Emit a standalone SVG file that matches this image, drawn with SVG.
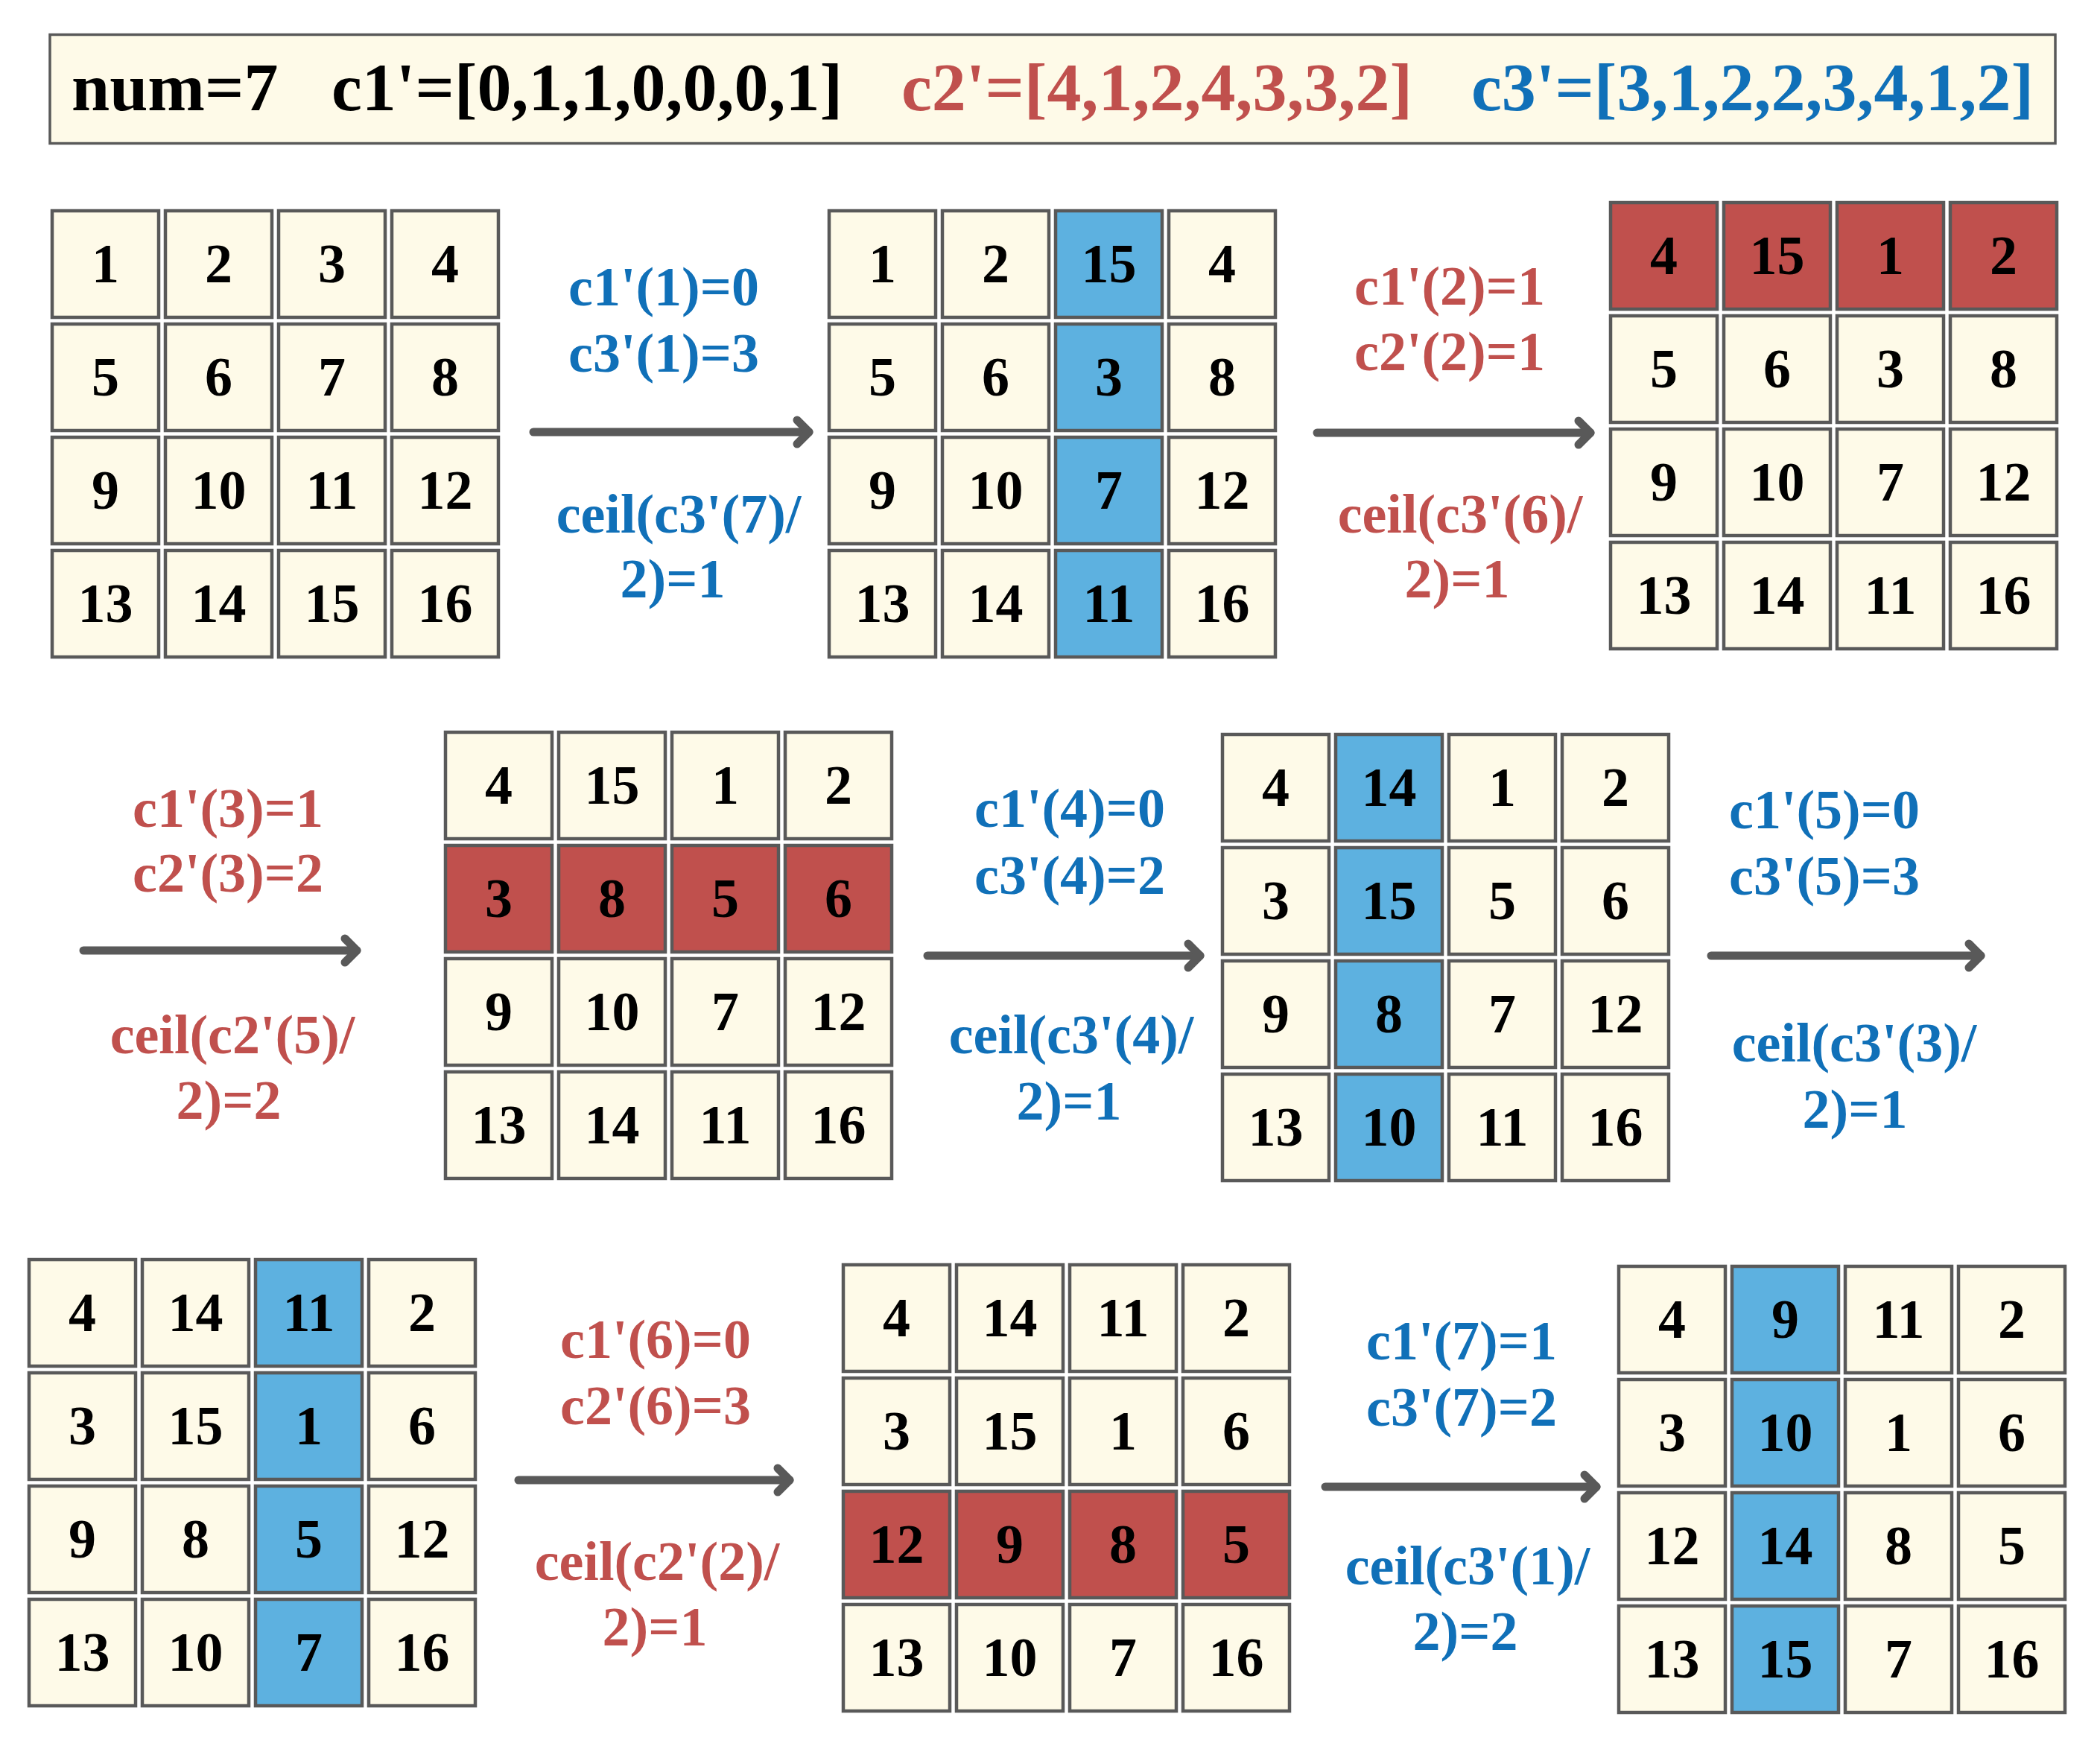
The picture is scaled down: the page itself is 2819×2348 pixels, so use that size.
<svg xmlns="http://www.w3.org/2000/svg" width="2819" height="2348" viewBox="0 0 2819 2348">
<style>
.hdr{fill:#FEFAE8;stroke:#595959;stroke-width:3.5}
rect.c,rect.b,rect.r{stroke:#595959;stroke-width:4.5}
rect.c{fill:#FEFAE8}
rect.b{fill:#5DB1E0}
rect.r{fill:#C0504D}
text{font-family:"Liberation Serif","Times New Roman",serif;font-weight:bold}
.n{font-size:74px;fill:#000;text-anchor:middle}
.h{font-size:92px}
.lb{font-size:74px;text-anchor:middle}
.blue{fill:#1070B8}
.red{fill:#C0504D}
.k{fill:#000}
.arr{stroke:#595959;stroke-width:11;stroke-linecap:round;stroke-linejoin:round;fill:none}
</style>
<defs>
<marker id="ah" markerUnits="userSpaceOnUse" viewBox="-28 -26 40 52" markerWidth="40" markerHeight="52" refX="0" refY="0" orient="auto">
<path d="M -16 -16 L 0 0 L -16 16" class="arr"/>
</marker>
</defs>
<rect width="2819" height="2348" fill="#fff"/>

<g id="header">
<rect class="hdr" x="67" y="46.5" width="2692" height="146"/>
<text class="h k" x="96" y="148">num=7</text>
<text class="h k" x="445" y="148">c1'=[0,1,1,0,0,0,1]</text>
<text class="h red" x="1210" y="148">c2'=[4,1,2,4,3,3,2]</text>
<text class="h blue" x="1975" y="148">c3'=[3,1,2,2,3,4,1,2]</text>
</g>

<g id="grid1" transform="translate(68,281)">
<rect class="c" x="2" y="2" width="143" height="143"/><rect class="c" x="154" y="2" width="143" height="143"/><rect class="c" x="306" y="2" width="143" height="143"/><rect class="c" x="458" y="2" width="143" height="143"/>
<rect class="c" x="2" y="154" width="143" height="143"/><rect class="c" x="154" y="154" width="143" height="143"/><rect class="c" x="306" y="154" width="143" height="143"/><rect class="c" x="458" y="154" width="143" height="143"/>
<rect class="c" x="2" y="306" width="143" height="143"/><rect class="c" x="154" y="306" width="143" height="143"/><rect class="c" x="306" y="306" width="143" height="143"/><rect class="c" x="458" y="306" width="143" height="143"/>
<rect class="c" x="2" y="458" width="143" height="143"/><rect class="c" x="154" y="458" width="143" height="143"/><rect class="c" x="306" y="458" width="143" height="143"/><rect class="c" x="458" y="458" width="143" height="143"/>
<text class="n" x="73.5" y="97.5">1</text><text class="n" x="225.5" y="97.5">2</text><text class="n" x="377.5" y="97.5">3</text><text class="n" x="529.5" y="97.5">4</text>
<text class="n" x="73.5" y="249.5">5</text><text class="n" x="225.5" y="249.5">6</text><text class="n" x="377.5" y="249.5">7</text><text class="n" x="529.5" y="249.5">8</text>
<text class="n" x="73.5" y="401.5">9</text><text class="n" x="225.5" y="401.5">10</text><text class="n" x="377.5" y="401.5">11</text><text class="n" x="529.5" y="401.5">12</text>
<text class="n" x="73.5" y="553.5">13</text><text class="n" x="225.5" y="553.5">14</text><text class="n" x="377.5" y="553.5">15</text><text class="n" x="529.5" y="553.5">16</text>
</g>

<g id="grid2" transform="translate(1111,281)">
<rect class="c" x="2" y="2" width="143" height="143"/><rect class="c" x="154" y="2" width="143" height="143"/><rect class="b" x="306" y="2" width="143" height="143"/><rect class="c" x="458" y="2" width="143" height="143"/>
<rect class="c" x="2" y="154" width="143" height="143"/><rect class="c" x="154" y="154" width="143" height="143"/><rect class="b" x="306" y="154" width="143" height="143"/><rect class="c" x="458" y="154" width="143" height="143"/>
<rect class="c" x="2" y="306" width="143" height="143"/><rect class="c" x="154" y="306" width="143" height="143"/><rect class="b" x="306" y="306" width="143" height="143"/><rect class="c" x="458" y="306" width="143" height="143"/>
<rect class="c" x="2" y="458" width="143" height="143"/><rect class="c" x="154" y="458" width="143" height="143"/><rect class="b" x="306" y="458" width="143" height="143"/><rect class="c" x="458" y="458" width="143" height="143"/>
<text class="n" x="73.5" y="97.5">1</text><text class="n" x="225.5" y="97.5">2</text><text class="n" x="377.5" y="97.5">15</text><text class="n" x="529.5" y="97.5">4</text>
<text class="n" x="73.5" y="249.5">5</text><text class="n" x="225.5" y="249.5">6</text><text class="n" x="377.5" y="249.5">3</text><text class="n" x="529.5" y="249.5">8</text>
<text class="n" x="73.5" y="401.5">9</text><text class="n" x="225.5" y="401.5">10</text><text class="n" x="377.5" y="401.5">7</text><text class="n" x="529.5" y="401.5">12</text>
<text class="n" x="73.5" y="553.5">13</text><text class="n" x="225.5" y="553.5">14</text><text class="n" x="377.5" y="553.5">11</text><text class="n" x="529.5" y="553.5">16</text>
</g>

<g id="grid3" transform="translate(2160,270)">
<rect class="r" x="2" y="2" width="143" height="143"/><rect class="r" x="154" y="2" width="143" height="143"/><rect class="r" x="306" y="2" width="143" height="143"/><rect class="r" x="458" y="2" width="143" height="143"/>
<rect class="c" x="2" y="154" width="143" height="143"/><rect class="c" x="154" y="154" width="143" height="143"/><rect class="c" x="306" y="154" width="143" height="143"/><rect class="c" x="458" y="154" width="143" height="143"/>
<rect class="c" x="2" y="306" width="143" height="143"/><rect class="c" x="154" y="306" width="143" height="143"/><rect class="c" x="306" y="306" width="143" height="143"/><rect class="c" x="458" y="306" width="143" height="143"/>
<rect class="c" x="2" y="458" width="143" height="143"/><rect class="c" x="154" y="458" width="143" height="143"/><rect class="c" x="306" y="458" width="143" height="143"/><rect class="c" x="458" y="458" width="143" height="143"/>
<text class="n" x="73.5" y="97.5">4</text><text class="n" x="225.5" y="97.5">15</text><text class="n" x="377.5" y="97.5">1</text><text class="n" x="529.5" y="97.5">2</text>
<text class="n" x="73.5" y="249.5">5</text><text class="n" x="225.5" y="249.5">6</text><text class="n" x="377.5" y="249.5">3</text><text class="n" x="529.5" y="249.5">8</text>
<text class="n" x="73.5" y="401.5">9</text><text class="n" x="225.5" y="401.5">10</text><text class="n" x="377.5" y="401.5">7</text><text class="n" x="529.5" y="401.5">12</text>
<text class="n" x="73.5" y="553.5">13</text><text class="n" x="225.5" y="553.5">14</text><text class="n" x="377.5" y="553.5">11</text><text class="n" x="529.5" y="553.5">16</text>
</g>

<g id="grid4" transform="translate(596,981)">
<rect class="c" x="2" y="2" width="143" height="143"/><rect class="c" x="154" y="2" width="143" height="143"/><rect class="c" x="306" y="2" width="143" height="143"/><rect class="c" x="458" y="2" width="143" height="143"/>
<rect class="r" x="2" y="154" width="143" height="143"/><rect class="r" x="154" y="154" width="143" height="143"/><rect class="r" x="306" y="154" width="143" height="143"/><rect class="r" x="458" y="154" width="143" height="143"/>
<rect class="c" x="2" y="306" width="143" height="143"/><rect class="c" x="154" y="306" width="143" height="143"/><rect class="c" x="306" y="306" width="143" height="143"/><rect class="c" x="458" y="306" width="143" height="143"/>
<rect class="c" x="2" y="458" width="143" height="143"/><rect class="c" x="154" y="458" width="143" height="143"/><rect class="c" x="306" y="458" width="143" height="143"/><rect class="c" x="458" y="458" width="143" height="143"/>
<text class="n" x="73.5" y="97.5">4</text><text class="n" x="225.5" y="97.5">15</text><text class="n" x="377.5" y="97.5">1</text><text class="n" x="529.5" y="97.5">2</text>
<text class="n" x="73.5" y="249.5">3</text><text class="n" x="225.5" y="249.5">8</text><text class="n" x="377.5" y="249.5">5</text><text class="n" x="529.5" y="249.5">6</text>
<text class="n" x="73.5" y="401.5">9</text><text class="n" x="225.5" y="401.5">10</text><text class="n" x="377.5" y="401.5">7</text><text class="n" x="529.5" y="401.5">12</text>
<text class="n" x="73.5" y="553.5">13</text><text class="n" x="225.5" y="553.5">14</text><text class="n" x="377.5" y="553.5">11</text><text class="n" x="529.5" y="553.5">16</text>
</g>

<g id="grid5" transform="translate(1639,984)">
<rect class="c" x="2" y="2" width="143" height="143"/><rect class="b" x="154" y="2" width="143" height="143"/><rect class="c" x="306" y="2" width="143" height="143"/><rect class="c" x="458" y="2" width="143" height="143"/>
<rect class="c" x="2" y="154" width="143" height="143"/><rect class="b" x="154" y="154" width="143" height="143"/><rect class="c" x="306" y="154" width="143" height="143"/><rect class="c" x="458" y="154" width="143" height="143"/>
<rect class="c" x="2" y="306" width="143" height="143"/><rect class="b" x="154" y="306" width="143" height="143"/><rect class="c" x="306" y="306" width="143" height="143"/><rect class="c" x="458" y="306" width="143" height="143"/>
<rect class="c" x="2" y="458" width="143" height="143"/><rect class="b" x="154" y="458" width="143" height="143"/><rect class="c" x="306" y="458" width="143" height="143"/><rect class="c" x="458" y="458" width="143" height="143"/>
<text class="n" x="73.5" y="97.5">4</text><text class="n" x="225.5" y="97.5">14</text><text class="n" x="377.5" y="97.5">1</text><text class="n" x="529.5" y="97.5">2</text>
<text class="n" x="73.5" y="249.5">3</text><text class="n" x="225.5" y="249.5">15</text><text class="n" x="377.5" y="249.5">5</text><text class="n" x="529.5" y="249.5">6</text>
<text class="n" x="73.5" y="401.5">9</text><text class="n" x="225.5" y="401.5">8</text><text class="n" x="377.5" y="401.5">7</text><text class="n" x="529.5" y="401.5">12</text>
<text class="n" x="73.5" y="553.5">13</text><text class="n" x="225.5" y="553.5">10</text><text class="n" x="377.5" y="553.5">11</text><text class="n" x="529.5" y="553.5">16</text>
</g>

<g id="grid6" transform="translate(37,1689)">
<rect class="c" x="2" y="2" width="143" height="143"/><rect class="c" x="154" y="2" width="143" height="143"/><rect class="b" x="306" y="2" width="143" height="143"/><rect class="c" x="458" y="2" width="143" height="143"/>
<rect class="c" x="2" y="154" width="143" height="143"/><rect class="c" x="154" y="154" width="143" height="143"/><rect class="b" x="306" y="154" width="143" height="143"/><rect class="c" x="458" y="154" width="143" height="143"/>
<rect class="c" x="2" y="306" width="143" height="143"/><rect class="c" x="154" y="306" width="143" height="143"/><rect class="b" x="306" y="306" width="143" height="143"/><rect class="c" x="458" y="306" width="143" height="143"/>
<rect class="c" x="2" y="458" width="143" height="143"/><rect class="c" x="154" y="458" width="143" height="143"/><rect class="b" x="306" y="458" width="143" height="143"/><rect class="c" x="458" y="458" width="143" height="143"/>
<text class="n" x="73.5" y="97.5">4</text><text class="n" x="225.5" y="97.5">14</text><text class="n" x="377.5" y="97.5">11</text><text class="n" x="529.5" y="97.5">2</text>
<text class="n" x="73.5" y="249.5">3</text><text class="n" x="225.5" y="249.5">15</text><text class="n" x="377.5" y="249.5">1</text><text class="n" x="529.5" y="249.5">6</text>
<text class="n" x="73.5" y="401.5">9</text><text class="n" x="225.5" y="401.5">8</text><text class="n" x="377.5" y="401.5">5</text><text class="n" x="529.5" y="401.5">12</text>
<text class="n" x="73.5" y="553.5">13</text><text class="n" x="225.5" y="553.5">10</text><text class="n" x="377.5" y="553.5">7</text><text class="n" x="529.5" y="553.5">16</text>
</g>

<g id="grid7" transform="translate(1130,1696)">
<rect class="c" x="2" y="2" width="143" height="143"/><rect class="c" x="154" y="2" width="143" height="143"/><rect class="c" x="306" y="2" width="143" height="143"/><rect class="c" x="458" y="2" width="143" height="143"/>
<rect class="c" x="2" y="154" width="143" height="143"/><rect class="c" x="154" y="154" width="143" height="143"/><rect class="c" x="306" y="154" width="143" height="143"/><rect class="c" x="458" y="154" width="143" height="143"/>
<rect class="r" x="2" y="306" width="143" height="143"/><rect class="r" x="154" y="306" width="143" height="143"/><rect class="r" x="306" y="306" width="143" height="143"/><rect class="r" x="458" y="306" width="143" height="143"/>
<rect class="c" x="2" y="458" width="143" height="143"/><rect class="c" x="154" y="458" width="143" height="143"/><rect class="c" x="306" y="458" width="143" height="143"/><rect class="c" x="458" y="458" width="143" height="143"/>
<text class="n" x="73.5" y="97.5">4</text><text class="n" x="225.5" y="97.5">14</text><text class="n" x="377.5" y="97.5">11</text><text class="n" x="529.5" y="97.5">2</text>
<text class="n" x="73.5" y="249.5">3</text><text class="n" x="225.5" y="249.5">15</text><text class="n" x="377.5" y="249.5">1</text><text class="n" x="529.5" y="249.5">6</text>
<text class="n" x="73.5" y="401.5">12</text><text class="n" x="225.5" y="401.5">9</text><text class="n" x="377.5" y="401.5">8</text><text class="n" x="529.5" y="401.5">5</text>
<text class="n" x="73.5" y="553.5">13</text><text class="n" x="225.5" y="553.5">10</text><text class="n" x="377.5" y="553.5">7</text><text class="n" x="529.5" y="553.5">16</text>
</g>

<g id="grid8" transform="translate(2171,1698)">
<rect class="c" x="2" y="2" width="143" height="143"/><rect class="b" x="154" y="2" width="143" height="143"/><rect class="c" x="306" y="2" width="143" height="143"/><rect class="c" x="458" y="2" width="143" height="143"/>
<rect class="c" x="2" y="154" width="143" height="143"/><rect class="b" x="154" y="154" width="143" height="143"/><rect class="c" x="306" y="154" width="143" height="143"/><rect class="c" x="458" y="154" width="143" height="143"/>
<rect class="c" x="2" y="306" width="143" height="143"/><rect class="b" x="154" y="306" width="143" height="143"/><rect class="c" x="306" y="306" width="143" height="143"/><rect class="c" x="458" y="306" width="143" height="143"/>
<rect class="c" x="2" y="458" width="143" height="143"/><rect class="b" x="154" y="458" width="143" height="143"/><rect class="c" x="306" y="458" width="143" height="143"/><rect class="c" x="458" y="458" width="143" height="143"/>
<text class="n" x="73.5" y="97.5">4</text><text class="n" x="225.5" y="97.5">9</text><text class="n" x="377.5" y="97.5">11</text><text class="n" x="529.5" y="97.5">2</text>
<text class="n" x="73.5" y="249.5">3</text><text class="n" x="225.5" y="249.5">10</text><text class="n" x="377.5" y="249.5">1</text><text class="n" x="529.5" y="249.5">6</text>
<text class="n" x="73.5" y="401.5">12</text><text class="n" x="225.5" y="401.5">14</text><text class="n" x="377.5" y="401.5">8</text><text class="n" x="529.5" y="401.5">5</text>
<text class="n" x="73.5" y="553.5">13</text><text class="n" x="225.5" y="553.5">15</text><text class="n" x="377.5" y="553.5">7</text><text class="n" x="529.5" y="553.5">16</text>
</g>

<g id="connectors">
<path class="arr" d="M 716 580 H 1086" marker-end="url(#ah)"/>
<path class="arr" d="M 1768 581 H 2135" marker-end="url(#ah)"/>
<path class="arr" d="M 112 1276 H 479" marker-end="url(#ah)"/>
<path class="arr" d="M 1245 1283 H 1611" marker-end="url(#ah)"/>
<path class="arr" d="M 2297 1283 H 2659" marker-end="url(#ah)"/>
<path class="arr" d="M 696 1987 H 1060" marker-end="url(#ah)"/>
<path class="arr" d="M 1779 1996 H 2143" marker-end="url(#ah)"/>
</g>

<g id="labels">
<g id="label1">
<text class="lb blue" x="891" y="410">c1'(1)=0</text>
<text class="lb blue" x="891" y="499">c3'(1)=3</text>
<text class="lb blue" x="911" y="715">ceil(c3'(7)/</text>
<text class="lb blue" x="903" y="802">2)=1</text>
</g>
<g id="label2">
<text class="lb red" x="1946" y="409">c1'(2)=1</text>
<text class="lb red" x="1946" y="497">c2'(2)=1</text>
<text class="lb red" x="1960" y="715">ceil(c3'(6)/</text>
<text class="lb red" x="1956" y="802">2)=1</text>
</g>
<g id="label3">
<text class="lb red" x="306" y="1110">c1'(3)=1</text>
<text class="lb red" x="306" y="1197">c2'(3)=2</text>
<text class="lb red" x="312" y="1414">ceil(c2'(5)/</text>
<text class="lb red" x="307" y="1502">2)=2</text>
</g>
<g id="label4">
<text class="lb blue" x="1436" y="1110">c1'(4)=0</text>
<text class="lb blue" x="1436" y="1200">c3'(4)=2</text>
<text class="lb blue" x="1438" y="1414">ceil(c3'(4)/</text>
<text class="lb blue" x="1435" y="1503">2)=1</text>
</g>
<g id="label5">
<text class="lb blue" x="2449" y="1112">c1'(5)=0</text>
<text class="lb blue" x="2449" y="1201">c3'(5)=3</text>
<text class="lb blue" x="2489" y="1425">ceil(c3'(3)/</text>
<text class="lb blue" x="2490" y="1514">2)=1</text>
</g>
<g id="label6">
<text class="lb red" x="880" y="1823">c1'(6)=0</text>
<text class="lb red" x="880" y="1912">c2'(6)=3</text>
<text class="lb red" x="882" y="2121">ceil(c2'(2)/</text>
<text class="lb red" x="879" y="2209">2)=1</text>
</g>
<g id="label7">
<text class="lb blue" x="1962" y="1825">c1'(7)=1</text>
<text class="lb blue" x="1962" y="1914">c3'(7)=2</text>
<text class="lb blue" x="1970" y="2127">ceil(c3'(1)/</text>
<text class="lb blue" x="1967" y="2215">2)=2</text>
</g>
</g>
</svg>
